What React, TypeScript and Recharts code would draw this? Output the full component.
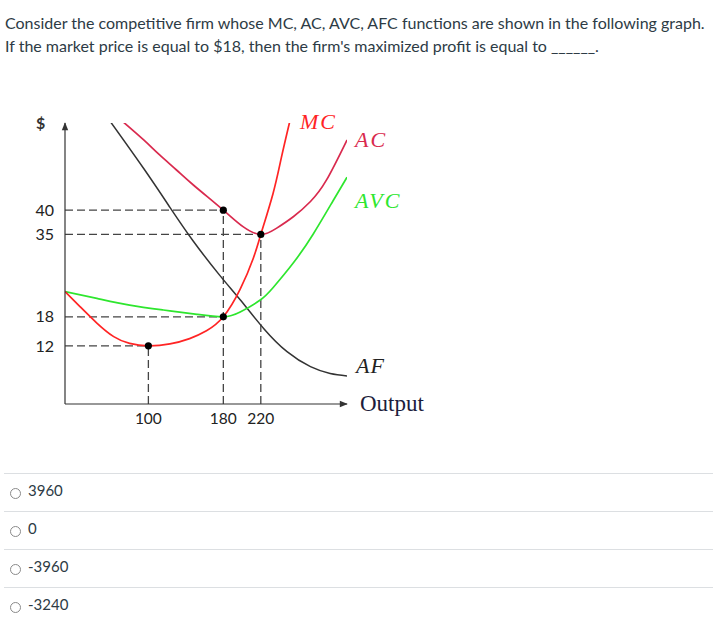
import React from "react";
import { LineChart, Line, XAxis, YAxis, ReferenceLine, ReferenceDot } from "recharts";

// output (x) and cost (y) points
const mcOutput = [11, 27, 45, 63, 80, 100, 123, 144, 162, 180, 198, 212, 220, 233, 242, 252];
const mcCost = [23.2, 20.1, 16.7, 13.9, 12.5, 12, 12.4, 13.5, 15.1, 18, 23.7, 30.1, 35, 43.4, 50.9, 59.2];

const acOutput = [72, 95, 112, 130, 148, 180, 201, 220, 237, 255, 273, 290, 312];
const acCost = [58.4, 54.5, 51.4, 48.3, 45.2, 40, 36.6, 35, 36.3, 38.7, 41.8, 46.2, 54.5];

const avcOutput = [11, 45, 80, 116, 152, 180, 198, 219, 233, 255, 276, 297, 312];
const avcCost = [23.2, 21.8, 20.4, 19.4, 18.5, 18, 19, 21.4, 24, 29.2, 35.1, 41.9, 46.8];

const afOutput = [59, 95, 123, 148, 176, 198, 223, 248, 273, 294, 312];
const afCost = [58.4, 48.6, 40.6, 33.6, 26.6, 21.5, 15.6, 10.8, 7.7, 6.3, 5.8];

// marked points: [output, cost]
const markedPoints = [
  [100, 12],
  [180, 40],
  [180, 18],
  [220, 35],
];

const xTicks = [100, 180, 220];
const yTicks = [12, 18, 35, 40];
const xMin = 11;
const xMax = 312;

const answers = ["3960", "0", "-3960", "-3240"];

const toPoints = (xs: number[], ys: number[]) => xs.map((q, i) => ({ q, v: ys[i] }));

const mcData = toPoints(mcOutput, mcCost);
const acData = toPoints(acOutput, acCost);
const avcData = toPoints(avcOutput, avcCost);
const afData = toPoints(afOutput, afCost);

const textColor = "#2d3b45";
const dash = "8 4";
const guideColor = "#444";

function CostChart() {
  return (
    <LineChart
      width={450}
      height={340}
      margin={{ top: 23, right: 103, bottom: 6, left: 35 }}
      style={{ position: "absolute", left: 0, top: 100 }}
    >
      <XAxis
        type="number"
        dataKey="q"
        domain={[xMin, xMax]}
        ticks={xTicks}
        allowDataOverflow
        height={30}
        tickLine={false}
        tickSize={0}
        tickMargin={9}
        axisLine={{ stroke: "#333", strokeWidth: 1.2, markerEnd: "url(#arrowHead)" }}
        tick={{ fill: "#222", fontSize: 15.5, fontFamily: "Lato" }}
      />
      <YAxis
        type="number"
        domain={[0, 58]}
        ticks={yTicks}
        allowDataOverflow
        width={30}
        tickLine={false}
        tickSize={0}
        tickMargin={11}
        axisLine={{ stroke: "#333", strokeWidth: 1.2, markerStart: "url(#arrowHead)" }}
        tick={{ fill: "#222", fontSize: 16, fontFamily: "Lato" }}
      />
      {markedPoints.map(([q, v], i) => (
        <ReferenceLine
          key={"h" + i}
          segment={[{ x: xMin, y: v }, { x: q, y: v }]}
          stroke={guideColor}
          strokeWidth={1.3}
          strokeDasharray={dash}
        />
      ))}
      {markedPoints
        .filter(([q, v]) => !markedPoints.some(([q2, v2]) => q2 === q && v2 > v))
        .map(([q, v], i) => (
          <ReferenceLine
            key={"v" + i}
            segment={[{ x: q, y: 0 }, { x: q, y: v }]}
            stroke={guideColor}
            strokeWidth={1.3}
            strokeDasharray={dash}
          />
        ))}
      <Line data={afData} dataKey="v" type="natural" stroke="#333" strokeWidth={1.5} dot={false} isAnimationActive={false} />
      <Line data={avcData} dataKey="v" type="natural" stroke="#2ee62e" strokeWidth={1.7} dot={false} isAnimationActive={false} />
      <Line data={acData} dataKey="v" type="natural" stroke="#d92a4e" strokeWidth={1.7} dot={false} isAnimationActive={false} />
      <Line data={mcData} dataKey="v" type="natural" stroke="#ff2424" strokeWidth={1.7} dot={false} isAnimationActive={false} />
      {markedPoints.map(([q, v], i) => (
        <ReferenceDot key={"d" + i} x={q} y={v} r={3.6} fill="#000" stroke="none" />
      ))}
    </LineChart>
  );
}

export default function App() {
  const serif = "'Liberation Serif', serif";
  return (
    <div
      style={{
        position: "relative",
        width: 717,
        height: 623,
        overflow: "hidden",
        background: "#fff",
        fontFamily: "Lato, sans-serif",
        color: textColor,
      }}
    >
      <style>{"body{margin:0}"}</style>
      <svg width={0} height={0} style={{ position: "absolute" }}>
        <defs>
          <marker
            id="arrowHead"
            viewBox="0 0 10 10"
            refX="9"
            refY="5"
            markerWidth="9"
            markerHeight="8"
            markerUnits="userSpaceOnUse"
            orient="auto-start-reverse"
          >
            <path d="M0,1 L10,5 L0,9 z" fill="#333" />
          </marker>
        </defs>
      </svg>

      <div style={{ position: "absolute", left: 5, top: 12, fontSize: 16, lineHeight: "22.5px", whiteSpace: "nowrap" }}>
        <div>Consider the competitive firm whose MC, AC, AVC, AFC functions are shown in the following graph.</div>
        <div>If the market price is equal to $18, then the firm's maximized profit is equal to ______.</div>
      </div>

      <CostChart />

      <svg width={717} height={623} style={{ position: "absolute", left: 0, top: 0, pointerEvents: "none" }}>
        <text x={36} y={129} fontFamily="Lato" fontWeight={700} fontSize={16} fill="#333">$</text>
        <text x={300} y={129} fontFamily={serif} fontStyle="italic" fontSize={22} letterSpacing={2} fill="#ff2424">MC</text>
        <text x={355} y={147} fontFamily={serif} fontStyle="italic" fontSize={22} letterSpacing={2} fill="#d92a4e">AC</text>
        <text x={355} y={208} fontFamily={serif} fontStyle="italic" fontSize={22} letterSpacing={2} fill="#2ee62e">AVC</text>
        <text x={356} y={373} fontFamily={serif} fontStyle="italic" fontSize={22} letterSpacing={1} fill="#222">AF</text>
        <text x={360} y={411} fontFamily={serif} fontSize={23} fill="#1c1c3c">Output</text>
      </svg>

      {answers.map((a, i) => (
        <React.Fragment key={a}>
          <div style={{ position: "absolute", left: 4, top: 473 + i * 38, width: 709, height: 1, background: "#dcdfe2" }} />
          <div
            style={{
              position: "absolute",
              left: 10,
              top: 488 + i * 38,
              width: 9,
              height: 9,
              borderRadius: "50%",
              border: "1px solid #8a8a8a",
            }}
          />
          <div style={{ position: "absolute", left: 28, top: 483 + i * 38, fontSize: 15, lineHeight: "15px", color: textColor }}>
            {a}
          </div>
        </React.Fragment>
      ))}
    </div>
  );
}
